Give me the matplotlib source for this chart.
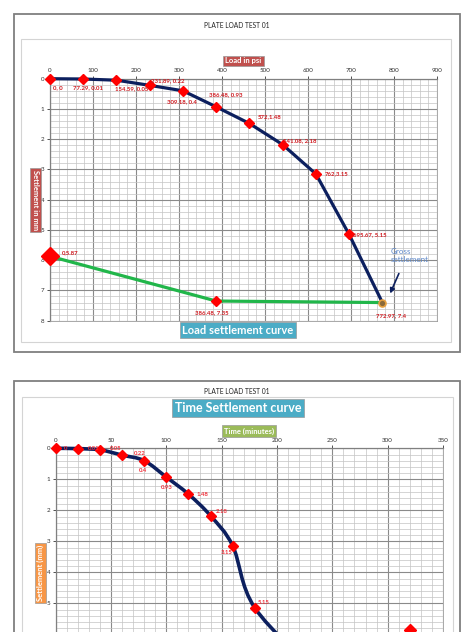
import numpy as np
import matplotlib
matplotlib.use("Agg")
import matplotlib.pyplot as plt
from matplotlib.patches import Rectangle, PathPatch
from matplotlib.path import Path

plt.rcParams['font.family'] = ['Lato', 'DejaVu Sans']

# load settlement data
load_psi = [0, 77.29, 154.59, 231.89, 309.18, 386.48, 463.77, 541.08, 618.37, 695.67, 772.97]
settle_mm = [0, 0.01, 0.05, 0.22, 0.4, 0.93, 1.48, 2.18, 3.15, 5.15, 7.4]
load_labels = ["0, 0", "77.29, 0.01", "154.59, 0.05", "231.89, 0.22", "309.18, 0.4",
               "386.48, 0.93", "572,1.48", "541.08, 2.18", "762,3.15", "695.67, 5.15",
               "772.97, 7.4"]
unload_psi = [772.97, 386.48, 0]
unload_mm = [7.4, 7.35, 5.87]
unload_labels = ["", "386.48, 7.35", "0,5.87"]

# time settlement data
time_min = [0, 20, 40, 60, 80, 100, 120, 140, 160, 180, 240]
time_settle = [0, 0.01, 0.05, 0.22, 0.4, 0.93, 1.48, 2.18, 3.15, 5.15, 7.4]
time_labels = ["0", "0.01", "0.05", "0.22", "0.4", "0.93", "1.48", "2.18", "3.15", "5.15", ""]
rebound_min = [240, 280, 320]
rebound_mm = [7.4, 7.35, 5.87]

W, H = 474, 632
fig = plt.figure(figsize=(W / 100, H / 100), dpi=100)

NAVY = '#0c1f5e'
RED = '#ff0000'
LBL = '#d0181e'


def fx(x):
    return x / W


def fy(y):
    return 1 - y / H


def frame(x0, y0, x1, y1, color, lw):
    fig.patches.append(Rectangle((fx(x0), fy(y1)), (x1 - x0) / W, (y1 - y0) / H,
                                 transform=fig.transFigure, fill=False, ec=color, lw=lw))


def box_text(x, y, s, fc, size, rot=0, bold=True):
    fig.text(fx(x), fy(y), s, ha='center', va='center', rotation=rot, color='white',
             fontsize=size, fontweight='bold' if bold else 'normal',
             bbox=dict(boxstyle='square,pad=0.25', fc=fc, ec='#9a9a9a', lw=0.5))


def axes_px(x0, y0, x1, y1):
    return fig.add_axes([fx(x0), fy(y1), (x1 - x0) / W, (y1 - y0) / H])


def setup(ax, xmax, xmajor, xminor, ylabels_to=8):
    ax.set_xlim(0, xmax)
    ax.set_ylim(8, 0)
    ax.xaxis.tick_top()
    ax.set_xticks(np.arange(0, xmax + 1, xmajor))
    ax.set_xticks(np.arange(0, xmax + 1, xminor), minor=True)
    yt = np.arange(0, 9, 1)
    ax.set_yticks(yt, [str(v) if v <= ylabels_to else "" for v in yt])
    ax.set_yticks(np.arange(0, 8.01, 0.2), minor=True)
    ax.grid(which='major', color='#8a8a8a', lw=0.8)
    ax.grid(which='minor', color='#c4c4c4', lw=0.5)
    ax.set_axisbelow(True)
    ax.tick_params(which='major', labelsize=4.5, length=2, width=0.6, colors='#333333', pad=2)
    ax.tick_params(which='minor', length=0)
    for side in ['top', 'left']:
        ax.spines[side].set_color('#808080')
        ax.spines[side].set_linewidth(0.9)
    for side in ['right', 'bottom']:
        ax.spines[side].set_color('#9a9a9a')
        ax.spines[side].set_linewidth(0.6)


def smooth_path(xs, ys):
    # excel style bezier smoothing between the data points
    pts = list(zip(xs, ys))
    n = len(pts)
    verts = [pts[0]]
    codes = [Path.MOVETO]
    for i in range(n - 1):
        p0 = pts[i - 1] if i > 0 else pts[i]
        p1, p2 = pts[i], pts[i + 1]
        p3 = pts[i + 2] if i + 2 < n else p2
        c1 = (p1[0] + (p2[0] - p0[0]) / 6, p1[1] + (p2[1] - p0[1]) / 6)
        c2 = (p2[0] - (p3[0] - p1[0]) / 6, p2[1] - (p3[1] - p1[1]) / 6)
        verts += [c1, c2, p2]
        codes += [Path.CURVE4] * 3
    return Path(verts, codes)


# ---------------- top chart ----------------
frame(14, 14, 460, 352, '#7f7f7f', 1.3)
frame(20.5, 39, 450.5, 342, '#d4d4d4', 0.8)
fig.text(fx(237), fy(25), "PLATE LOAD TEST 01", ha='center', va='center', fontsize=4.8, color='#222222')

ax1 = axes_px(50, 78.7, 437, 320.7)
setup(ax1, 900, 100, 20)
ax1.plot(load_psi, settle_mm, color=NAVY, lw=2.3, zorder=3, solid_capstyle='round', clip_on=False)
ax1.plot(load_psi[:-1], settle_mm[:-1], 'D', color=RED, ms=5.5, zorder=4, clip_on=False)
ax1.plot(unload_psi, unload_mm, color='#21b64a', lw=2.3, zorder=2, clip_on=False)
ax1.plot(unload_psi[1], unload_mm[1], 'D', color=RED, ms=5.5, zorder=4, clip_on=False)
ax1.plot(unload_psi[2], unload_mm[2], 'D', color=RED, ms=9, zorder=4, clip_on=False)
ax1.plot(load_psi[-1], settle_mm[-1], 'o', color='#6b4a2a', mfc='#8a6a3a', mec='#e6a040',
         ms=5, mew=1.2, zorder=5, clip_on=False)

# label offsets in pixels (dx, dy up), alignment
load_offsets = [(3, -9, 'left'), (5, -9, 'center'), (15, -8, 'center'), (18, 5, 'center'),
                (-1, -11, 'center'), (10, 12, 'center'), (8, 7, 'left'), (0, 4, 'left'),
                (9, 0, 'left'), (4, 0, 'left'), (9, -13, 'center')]
for x, y, s, (dx, dy, ha) in zip(load_psi, settle_mm, load_labels, load_offsets):
    ax1.annotate(s, (x, y), xytext=(dx, dy), textcoords='offset pixels', ha=ha, va='center',
                 fontsize=4.3, fontweight='bold', color=LBL, zorder=6, annotation_clip=False)
unload_offsets = [(0, 0, 'left'), (-4, -12, 'center'), (12, 4, 'left')]
for x, y, s, (dx, dy, ha) in zip(unload_psi, unload_mm, unload_labels, unload_offsets):
    if s:
        ax1.annotate(s, (x, y), xytext=(dx, dy), textcoords='offset pixels', ha=ha, va='center',
                     fontsize=4.3, fontweight='bold', color=LBL, zorder=6, annotation_clip=False)

fig.text(fx(391), fy(255.5), "Gross\nsettlement", ha='left', va='center', fontsize=5.8,
         color='#5b86c8', linespacing=1.0)
fig.add_artist(plt.Annotation("", xy=(fx(389), fy(296)), xytext=(fx(400), fy(271)),
                              xycoords='figure fraction', textcoords='figure fraction',
                              arrowprops=dict(arrowstyle='-|>', color=NAVY, lw=1.2,
                                              mutation_scale=7)))

box_text(243.5, 61, "Load in psi", '#c0504d', 5.5)
box_text(35.5, 200, "Settlement in mm", '#c0504d', 5.5, rot=270)
box_text(238, 330, "Load settlement curve", '#4bacc6', 8)

# ---------------- bottom chart ----------------
frame(14, 381, 460, 700, '#7f7f7f', 1.3)
frame(22, 397, 453, 700, '#d4d4d4', 0.8)
fig.text(fx(237), fy(392), "PLATE LOAD TEST 01", ha='center', va='center', fontsize=4.8, color='#222222')

ax2 = axes_px(55.7, 448.3, 443, 696.3)
setup(ax2, 350, 50, 10, ylabels_to=5)
ax2.add_patch(PathPatch(smooth_path(time_min, time_settle), fill=False, ec=NAVY, lw=2.6,
                        zorder=3, clip_on=False))
ax2.add_patch(PathPatch(smooth_path(rebound_min, rebound_mm), fill=False, ec='#21b64a', lw=2.3,
                        zorder=2, clip_on=False))
ax2.plot(time_min, time_settle, 'D', color=RED, ms=5.5, zorder=4, clip_on=False)
ax2.plot(rebound_min[-1], rebound_mm[-1], 'D', color=RED, ms=6.5, zorder=4, clip_on=False)

time_offsets = [(8, 0, 'left'), (10, 0, 'left'), (10, 1, 'left'), (12, 2, 'left'),
                (-1, -10, 'center'), (0, -10, 'center'), (8, 0, 'left'), (5, 4, 'left'),
                (-6, -7, 'center'), (3, 5, 'left'), (4, 0, 'left')]
for x, y, s, (dx, dy, ha) in zip(time_min, time_settle, time_labels, time_offsets):
    if s:
        ax2.annotate(s, (x, y), xytext=(dx, dy), textcoords='offset pixels', ha=ha, va='center',
                     fontsize=4.3, fontweight='bold', color='#f0303a', zorder=6)

box_text(238, 408, "Time Settlement curve", '#4bacc6', 9)
box_text(249, 431, "Time (minutes)", '#9bbb59', 5.5)
box_text(40.5, 573, "Settlement (mm)", '#f79646', 5.5, rot=90)

fig.savefig("out.png", dpi=100)
